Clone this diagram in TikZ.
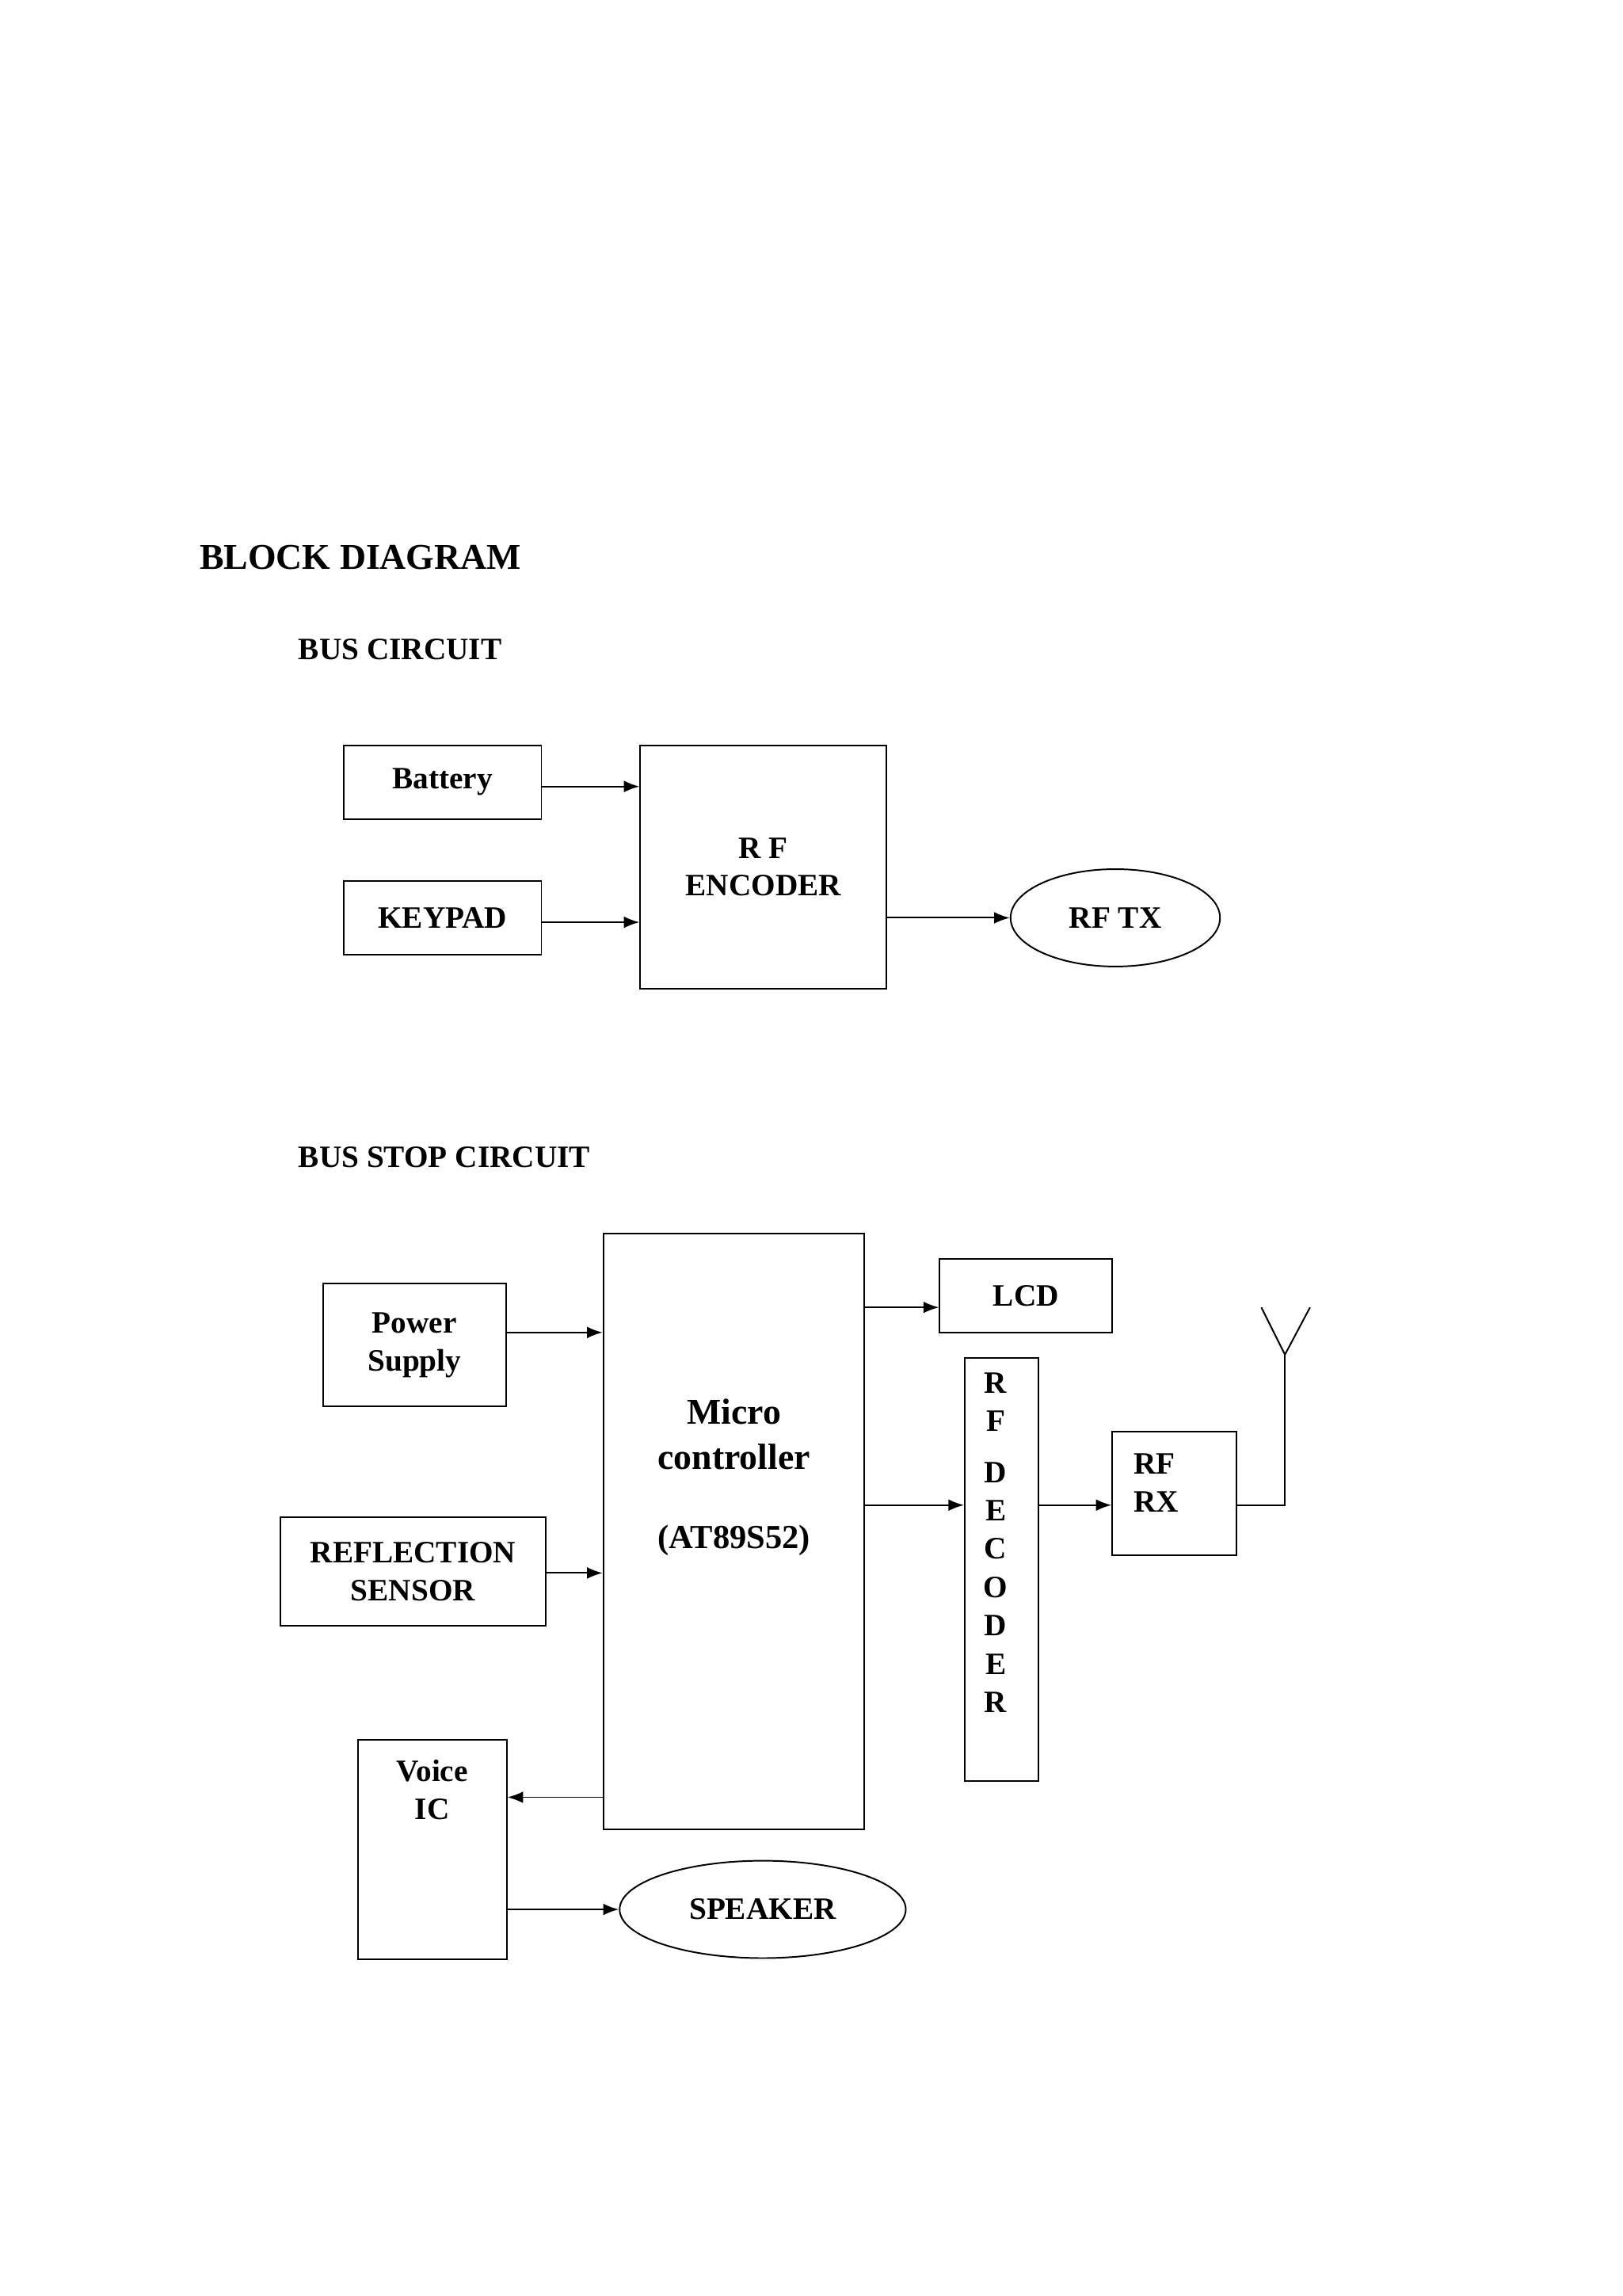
\documentclass[tikz,border=0pt]{standalone}
\usepackage{fontspec}
\setmainfont{Liberation Serif}
\usetikzlibrary{positioning,arrows.meta}
\tikzset{
  blk/.style={draw, line width=0.6pt, inner sep=0pt, font=\fontsize{12}{14.5}\selectfont\bfseries, align=center},
  txt/.style={inner sep=0pt, font=\fontsize{12}{14.5}\selectfont\bfseries, align=center},
  oval/.style={draw, ellipse, line width=0.6pt, inner sep=0pt, font=\fontsize{12}{14.5}\selectfont\bfseries},
  arr/.style={-{Latex[length=6pt,width=4.5pt]}, line width=0.6pt}
}
\usetikzlibrary{shapes.geometric}
\begin{document}
\begin{tikzpicture}[x=0.02cm, y=-0.02cm]
  \useasboundingbox (0,0) rectangle (1100,1556);

  % Titles
  \node [anchor=west, inner sep=0pt, font=\fontsize{14}{16}\selectfont\bfseries] (title) at (135,378) {BLOCK DIAGRAM};
  \node [anchor=west, txt] (bus) at (202,440) {BUS CIRCUIT};
  \node [anchor=west, txt] (stop) at (202,784) {BUS STOP CIRCUIT};

  % Bus circuit
  \node [blk, minimum width=2.68cm, minimum height=1cm] (bat) at (300,530) {Battery};
  \node [blk, minimum width=2.68cm, minimum height=1cm] (key) at (300,622) {KEYPAD};
  \node [blk, minimum width=3.34cm, minimum height=3.3cm] (enc) at (517.5,587.5) {R F\\ENCODER};
  \node [oval, minimum width=2.84cm, minimum height=1.32cm] (tx) at (756,622) {RF TX};

  \draw [arr] (bat.east |- 0,533) -- (enc.west |- 0,533);
  \draw [arr] (key.east |- 0,625) -- (enc.west |- 0,625);
  \draw [arr] (enc.east |- tx.west) -- (tx.west);

  % Bus stop circuit
  \node [blk, minimum width=3.54cm, minimum height=8.08cm] (mcu) at (497.5,1038) {};
  \node [txt, font=\fontsize{14}{17.5}\selectfont\bfseries] (mcutxt) at (497.5,972) {Micro\\controller};
  \node [txt, font=\fontsize{13}{15}\selectfont\bfseries] (mcupart) at (497.5,1044) {(AT89S52)};

  \node [blk, minimum width=2.48cm, minimum height=1.66cm] (pwr) at (281,911.5) {Power\\Supply};
  \node [blk, minimum width=3.6cm, minimum height=1.48cm] (sens) at (280,1065) {REFLECTION\\SENSOR};
  \node [blk, minimum width=2.02cm, minimum height=2.98cm] (voice) at (293,1253.5) {};
  \node [txt] (voicetxt) at (293,1213) {Voice\\IC};
  \node [oval, minimum width=3.88cm, minimum height=1.32cm] (spk) at (517,1294) {SPEAKER};

  \node [blk, minimum width=2.34cm, minimum height=1cm] (lcd) at (695.5,878) {LCD};
  \node [blk, minimum width=1cm, minimum height=5.74cm] (dec) at (679,1063.5) {};
  \node [txt, anchor=north, font=\fontsize{12}{14.8}\selectfont\bfseries] (dectxt) at (675,930) {R\\F\\[0.4em]D\\E\\C\\O\\D\\E\\R};
  \node [blk, minimum width=1.68cm, minimum height=1.68cm] (rx) at (796,1012) {};
  \node [txt, align=left, anchor=west] (rxtxt) at (768,1005) {RF\\RX};

  \draw [arr] (pwr.east |- 0,903) -- (mcu.west |- 0,903);
  \draw [arr] (sens.east |- 0,1066) -- (mcu.west |- 0,1066);
  \draw [arr] (mcu.west |- 0,1218) -- (voice.east |- 0,1218);
  \draw [arr] (voice.east |- spk.west) -- (spk.west);
  \draw [arr] (mcu.east |- 0,886) -- (lcd.west |- 0,886);
  \draw [arr] (mcu.east |- 0,1020) -- (dec.west |- 0,1020);
  \draw [arr] (dec.east |- 0,1020) -- (rx.west |- 0,1020);

  % Antenna
  \coordinate (ant) at (871,918);
  \draw [line width=0.6pt] (rx.east |- 0,1020) -- (ant |- 0,1020) -- (ant);
  \draw [line width=0.6pt] (855,886) -- (ant) -- (888,886);
\end{tikzpicture}
\end{document}
